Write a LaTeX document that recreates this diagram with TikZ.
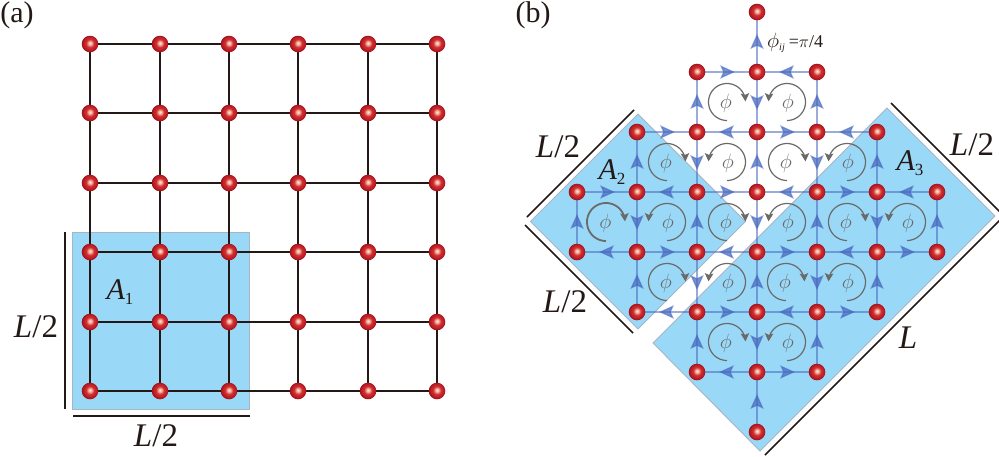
\documentclass[tikz,border=0pt]{standalone}
\usepackage{fontspec}
\setmainfont{Liberation Serif}
\usetikzlibrary{arrows.meta,decorations.markings}
\definecolor{regionblue}{HTML}{9AD8F8}
\definecolor{regionedge}{HTML}{A9B4C4}
\definecolor{bondblue}{HTML}{4668BE}
\definecolor{fluxgray}{HTML}{6A6A68}
\definecolor{inkblack}{HTML}{231815}
\pgfdeclareradialshading{redsphere}{\pgfpoint{0bp}{3bp}}{%
  rgb(0bp)=(0.99,0.90,0.84);rgb(5bp)=(0.95,0.70,0.62);rgb(12bp)=(0.82,0.19,0.20);
  rgb(20bp)=(0.74,0.11,0.14);rgb(27bp)=(0.56,0.06,0.09);rgb(32bp)=(0.46,0.05,0.07);rgb(50bp)=(0.46,0.05,0.07)}
\newcommand{\bigtxt}{\fontsize{33}{38}\selectfont}
\newcommand{\regionlabel}[2]{\fontsize{30}{34}\selectfont\textit{#1}\raisebox{-5pt}{\fontsize{17}{20}\selectfont #2}}
\tikzset{
  x=1pt,y=-1pt,
  sitespot/.style={circle,minimum size=16pt,inner sep=0pt},
  sphereball/.style={shading=redsphere},
  blackbond/.style={draw=inkblack,line width=1.9pt},
  bluepatch/.style={fill=regionblue,draw=regionedge,line width=0.9pt},
  barline/.style={draw=inkblack,line width=1.5pt},
  txt/.style={inner sep=0pt,text=inkblack},
  fluxsym/.style={inner sep=0pt,text=fluxgray,font=\fontsize{21}{24}\selectfont},
  bluebond/.style={bondblue,line width=1.3pt,draw opacity=0.55,fill opacity=0.72,postaction={decorate},
    decoration={markings,mark=at position 0.635 with {\arrow{Stealth[length=15pt,width=13.5pt,inset=3pt]}}}},
  fluxarc/.style={draw=fluxgray,line width=1.2pt,-{Stealth[length=8pt,width=8.5pt,inset=1.5pt]}},
}
\begin{document}
\begin{tikzpicture}
\useasboundingbox (0,0) rectangle (999,456);

% ---------- panel (a)
\path[bluepatch] (72.7,232) rectangle (249.7,409);
\foreach \yy [count=\j] in {44,113,183,252,322,391}
  \foreach \xx [count=\i] in {90,160,229,298,368,437}
    \node[sitespot] (a\i-\j) at (\xx,\yy) {};
\foreach \j in {1,...,6}
  \foreach \i/\k in {1/2,2/3,3/4,4/5,5/6} {
    \draw[blackbond] (a\i-\j.center) -- (a\k-\j.center);
    \draw[blackbond] (a\j-\i.center) -- (a\j-\k.center);
  }
\foreach \j in {1,...,6}
  \foreach \i in {1,...,6}
    \path[sphereball] (a\i-\j.center) circle[radius=8.3pt];
\coordinate (r1a) at (65,232); \coordinate (r1b) at (65,408.5);
\coordinate (r2a) at (73,416); \coordinate (r2b) at (250,416);
\draw[barline,line width=1.8pt] (r1a) -- (r1b);
\draw[barline] (r2a) -- (r2b);
\node[txt] (lab-a) at (17,15) {\fontsize{30}{36}\selectfont (a)};
\node[txt] (lab-l1) at (36,327) {\bigtxt\textit{L}/2};
\node[txt] (lab-l2) at (156,436) {\bigtxt\textit{L}/2};
\node[txt] (lab-a1) at (120,292) {\regionlabel{A}{1}};

% ---------- panel (b)
\path[bluepatch] (638,114) -- (745.5,221.5) -- (638,329) -- (530.5,221.5) -- cycle;
\path[bluepatch] (887,108) -- (995,216) -- (760,451) -- (653,343) -- cycle;

\foreach \yy/\xs in {12/{757},72/{697,757,817},132/{637,697,757,817,877},
    192/{577,637,697,757,817,877,937},252/{577,637,697,757,817,877,937},
    312/{637,697,757,817,877},372/{697,757,817},432/{757}}
  \foreach \xx in \xs
    \node[sitespot] (n\xx-\yy) at (\xx,\yy) {};

\foreach \a/\b in {
  757-72/757-12,
  697-72/757-72, 817-72/757-72,
  697-132/697-72, 757-72/757-132, 817-132/817-72,
  637-132/697-132, 757-132/697-132, 757-132/817-132, 877-132/817-132,
  637-192/637-132, 697-132/697-192, 757-192/757-132, 817-132/817-192, 877-192/877-132,
  577-192/637-192, 697-192/637-192, 697-192/757-192, 817-192/757-192, 817-192/877-192, 937-192/877-192,
  577-252/577-192, 637-192/637-252, 697-252/697-192, 757-192/757-252, 817-252/817-192, 877-192/877-252, 937-252/937-192,
  637-252/577-252, 637-252/697-252, 757-252/697-252, 757-252/817-252, 877-252/817-252, 877-252/937-252,
  637-312/637-252, 697-252/697-312, 757-312/757-252, 817-252/817-312, 877-312/877-252,
  697-312/637-312, 697-312/757-312, 817-312/757-312, 817-312/877-312,
  697-372/697-312, 757-312/757-372, 817-372/817-312,
  757-372/697-372, 757-372/817-372,
  757-432/757-372}
  \draw[bluebond] (n\a.center) -- (n\b.center);

\foreach \yy/\xs in {12/{757},72/{697,757,817},132/{637,697,757,817,877},
    192/{577,637,697,757,817,877,937},252/{577,637,697,757,817,877,937},
    312/{637,697,757,817,877},372/{697,757,817},432/{757}}
  \foreach \xx in \xs
    \path[sphereball] (n\xx-\yy.center) circle[radius=8.3pt];

% plaquette fluxes: clockwise loops
\foreach \cx/\cy in {727/102, 667/162, 787/162, 667/282, 786/282, 727/222, 847/222, 727/342}{
  \node[fluxsym] (f\cx-\cy) at (\cx-1,\cy+1) {$\phi$};
  \draw[fluxarc] plot[domain=90:358,samples=40,smooth] ({\cx+18.5*cos(\x)},{\cy+18.5*sin(\x)});
}
\node[fluxsym] (f606-222) at (605.5,223) {$\phi$};
\draw[fluxarc,line width=1.8pt] plot[domain=90:358,samples=40,smooth] ({606+19*cos(\x)},{222+19*sin(\x)});
% mirrored loops
\foreach \cx/\cy in {787/102, 727/162, 847/162, 667/222, 787/222, 907/222, 727/282, 847/282, 787/342}{
  \node[fluxsym] (f\cx-\cy) at (\cx+1,\cy+1) {$\phi$};
  \draw[fluxarc] plot[domain=90:-178,samples=40,smooth] ({\cx+18.5*cos(\x)},{\cy+18.5*sin(\x)});
}

\coordinate (e1a) at (634,110); \coordinate (e1b) at (527,217);
\coordinate (e2a) at (525,225); \coordinate (e2b) at (633,333);
\coordinate (e3a) at (891,103); \coordinate (e3b) at (1000,212);
\coordinate (e4a) at (1000,220); \coordinate (e4b) at (765,455);
\draw[barline] (e1a) -- (e1b);
\draw[barline] (e2a) -- (e2b);
\draw[barline] (e3a) -- (e3b);
\draw[barline] (e4a) -- (e4b);

\node[txt] (lab-b) at (533,15) {\fontsize{30}{36}\selectfont (b)};
\node[txt] (lab-l3) at (558,147) {\bigtxt\textit{L}/2};
\node[txt] (lab-l4) at (972,145) {\bigtxt\textit{L}/2};
\node[txt] (lab-l5) at (565,302) {\bigtxt\textit{L}/2};
\node[txt] (lab-l6) at (908,338) {\bigtxt\textit{L}};
\node[txt] (lab-a2) at (612,172) {\regionlabel{A}{2}};
\node[txt] (lab-a3) at (910,163) {\regionlabel{A}{3}};
\node[txt,anchor=base west] (lab-phi) at (767,47) {\fontsize{18}{20}\selectfont {\fontsize{20}{20}\selectfont $\phi$}\raisebox{-3pt}{\fontsize{10}{10}\selectfont\textit{ij}}\hspace{4pt}=$\pi$/4};
\end{tikzpicture}
\end{document}
